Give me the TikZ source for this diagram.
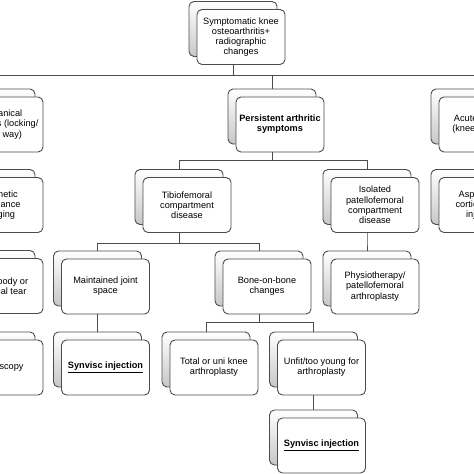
\documentclass[tikz,border=0pt]{standalone}
\usepackage{fontspec}
\setmainfont{Liberation Sans}
\usetikzlibrary{shadows}
\tikzset{
  box/.style={draw=black!70, line width=0.9pt, rounded corners=5pt, fill=white,
    minimum width=88pt, minimum height=55pt, align=center, inner sep=1pt,
    font=\fontsize{9.2}{10.2}\selectfont,
    general shadow={shadow xshift=-8pt, shadow yshift=8pt, draw=black!70,
      line width=0.9pt, top color=white, bottom color=black!22}},
  link/.style={draw=black!70, line width=0.8pt}
}
\begin{document}
\begin{tikzpicture}[x=1pt,y=-1pt]
  \useasboundingbox (0,0) rectangle (474,474);
  \clip (0,0) rectangle (474,474);
  \node[box] (knee) at (241,37) {Symptomatic knee\\osteoarthritis+\\radiographic\\changes};
  \node[box] (mech) at (-1,124.5) {Mechanical\\symptoms (locking/\\giving way)};
  \node[box] (pers) at (280,124.5) {\textbf{Persistent arthritic}\\\textbf{symptoms}};
  \node[box] (acute) at (483,124.5) {Acute effusion\\(knee swelling)};
  \node[box] (mri) at (-1,205) {Magnetic\\resonance\\imaging};
  \node[box] (tib) at (187,205) {Tibiofemoral\\compartment\\disease};
  \node[box] (pat) at (375,205) {Isolated\\patellofemoral\\compartment\\disease};
  \node[box] (asp) at (483,205) {Aspiration ±\\corticosteroid\\injection};
  \node[box] (loose) at (-1,286) {Loose body or\\meniscal tear};
  \node[box] (maint) at (105.5,286.5) {Maintained joint\\space};
  \node[box] (bone) at (267,286.5) {Bone-on-bone\\changes};
  \node[box] (phys) at (375,286.5) {Physiotherapy/\\patellofemoral\\arthroplasty};
  \node[box] (scope) at (-1,367.5) {Arthroscopy};
  \node[box] (syn1) at (105.5,367.5) {\textbf{\underline{Synvisc injection}}};
  \node[box] (total) at (214,367.5) {Total or uni knee\\arthroplasty};
  \node[box] (unfit) at (321.5,367.5) {Unfit/too young for\\arthroplasty};
  \node[box] (syn2) at (321.5,445.5) {\textbf{\underline{Synvisc injection}}};
  % parent/child/drop to bus
  \foreach \p/\c/\d in {knee/mech/10, knee/pers/10, knee/acute/10,
      mech/mri/8, mri/loose/8, loose/scope/8, acute/asp/8,
      pers/tib/8, pers/pat/8, tib/maint/10, tib/bone/10, pat/phys/8,
      maint/syn1/8, bone/total/8, bone/unfit/8, unfit/syn2/8}
    \draw[link] ([xshift=-8pt]\p.south) -- ++(0,\d) -| ([xshift=-8pt,yshift=8pt]\c.north);
\end{tikzpicture}
\end{document}
